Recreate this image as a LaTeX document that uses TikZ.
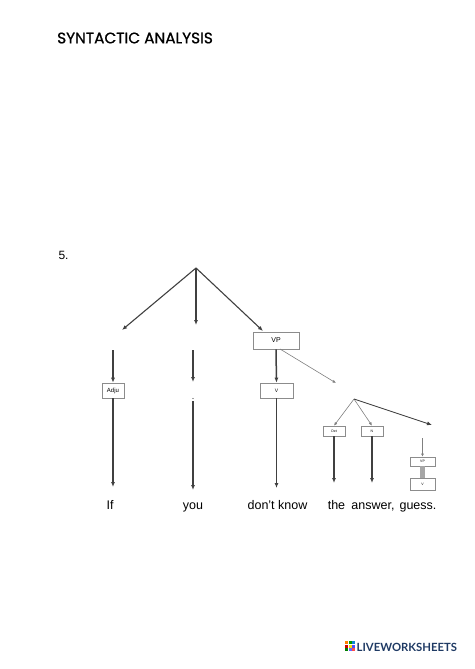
\documentclass[tikz,border=0pt]{standalone}
\usepackage{fontspec}
\setmainfont{Liberation Sans}
\newfontfamily\titlefont[FakeBold=0.9]{Poppins}
\newfontfamily\logofont{Lato}
\usetikzlibrary{arrows.meta}
\definecolor{ln}{gray}{0.25}
\definecolor{bx}{gray}{0.55}
\definecolor{logoblue}{HTML}{1F3A64}
\tikzset{
  tbox/.style={draw=bx, line width=0.6pt, fill=white, inner sep=0pt},
  conn/.style={draw=ln, line width=1.1pt, -{Latex[length=5pt,width=4pt]}},
  thin conn/.style={draw=gray, line width=0.6pt, -{Latex[length=3.5pt,width=3pt]}},
  word/.style={font=\fontsize{12.5}{13}\selectfont, anchor=base},
}
\begin{document}
\begin{tikzpicture}[x=1pt,y=-1pt]
\useasboundingbox (0,0) rectangle (474,669);
% title
\node[anchor=west, inner sep=0pt, font=\titlefont\fontsize{15.3}{16}\selectfont] (title) at (57,38) {SYNTACTIC ANALYSIS};
\node[anchor=west, font=\fontsize{12}{12}\selectfont] (num) at (55,255) {5.};
% coordinates
\coordinate (root) at (196,268);
\coordinate (tl) at (122,330);
\coordinate (tm) at (196,325);
\coordinate (tr) at (263,331);
\coordinate (ls) at (113,350);
\coordinate (lb) at (113,487);
\coordinate (ms) at (193,350);
\coordinate (me) at (193,382);
\coordinate (mdot) at (193,398.5);
\coordinate (ms2) at (193,401);
\coordinate (mb) at (193,490);
\coordinate (vb) at (276.5,488);
\coordinate (d1) at (280,349);
\coordinate (d2) at (336,383);
\coordinate (apex) at (354,399);
\coordinate (gt) at (432,425);
\coordinate (detb) at (334,483);
\coordinate (nb) at (372,483);
\coordinate (gs) at (422.5,438);
% boxes
\node[tbox, minimum width=46pt, minimum height=17pt, font=\fontsize{7}{7}\selectfont] (VP) at (276,340.5) {VP};
\node[tbox, minimum width=33pt, minimum height=15pt, font=\fontsize{5}{5}\selectfont] (V) at (276.5,390.5) {V};
\node[tbox, minimum width=22pt, minimum height=15pt, font=\fontsize{6}{6}\selectfont] (Adju) at (113,390.5) {Adju};
\node[tbox, minimum width=22pt, minimum height=10pt, font=\fontsize{3.5}{4}\selectfont] (Det) at (334,431) {Det};
\node[tbox, minimum width=22pt, minimum height=10pt, font=\fontsize{3.5}{4}\selectfont] (N) at (372,431) {N};
\node[tbox, minimum width=25pt, minimum height=9pt, font=\fontsize{3.5}{4}\selectfont] (VPs) at (422.5,461.5) {VP};
\node[tbox, minimum width=25pt, minimum height=12pt, font=\fontsize{3.5}{4}\selectfont] (Vs) at (422.5,484) {V};
% connectors
\draw[conn] (root) -- (tl);
\draw[conn] (root) -- (tm);
\draw[conn] (root) -- (tr);
\draw[conn] (ls) -- (Adju.north);
\draw[conn] (Adju.south) -- (lb);
\draw[conn] (ms) -- (me);
\fill[ln] (mdot) circle (0.6pt);
\draw[conn] (ms2) -- (mb);
\draw[conn, line width=1.5pt] (VP.south) -- (V.north);
\draw[conn, line width=1.3pt] (V.south) -- (vb);
\draw[thin conn] (d1) -- (d2);
\draw[thin conn] (apex) -- (Det.north);
\draw[thin conn] (apex) -- (N.north);
\draw[conn, line width=0.9pt] (apex) -- (gt);
\draw[conn] (Det.south) -- (detb);
\draw[conn] (N.south) -- (nb);
\draw[conn, draw=gray, line width=1.6pt, -{Latex[length=3pt,width=3pt]}] (gs) -- (VPs.north);
\fill[gray!70] ([xshift=-2.2pt]VPs.south) rectangle ([xshift=2.2pt]Vs.north);
% words
\node[word] (w1) at (110,509) {If};
\node[word] (w2) at (193,509) {you};
\node[word] (w3) at (277.5,509) {don’t know};
\node[word] (w4) at (336.5,509) {the};
\node[word] (w5) at (373,509) {answer,};
\node[word] (w6) at (418,509) {guess.};
% logo
\foreach \i/\j/\c in {0/0/orange,1/0/green!60!black,2/0/cyan!70!blue,0/1/red!80!black,1/1/yellow!80!orange,2/1/blue!70,0/2/green!50!black,1/2/blue!60,2/2/red!70} {
  \fill[\c] (345+\i*3.6,641+\j*3.6) rectangle ++(3,3);
}
\node[anchor=west, inner sep=0pt, text=logoblue, font=\logofont\bfseries\fontsize{11.3}{12}\selectfont] (logo) at (356.5,647) {LIVEWORKSHEETS};
\end{tikzpicture}
\end{document}
